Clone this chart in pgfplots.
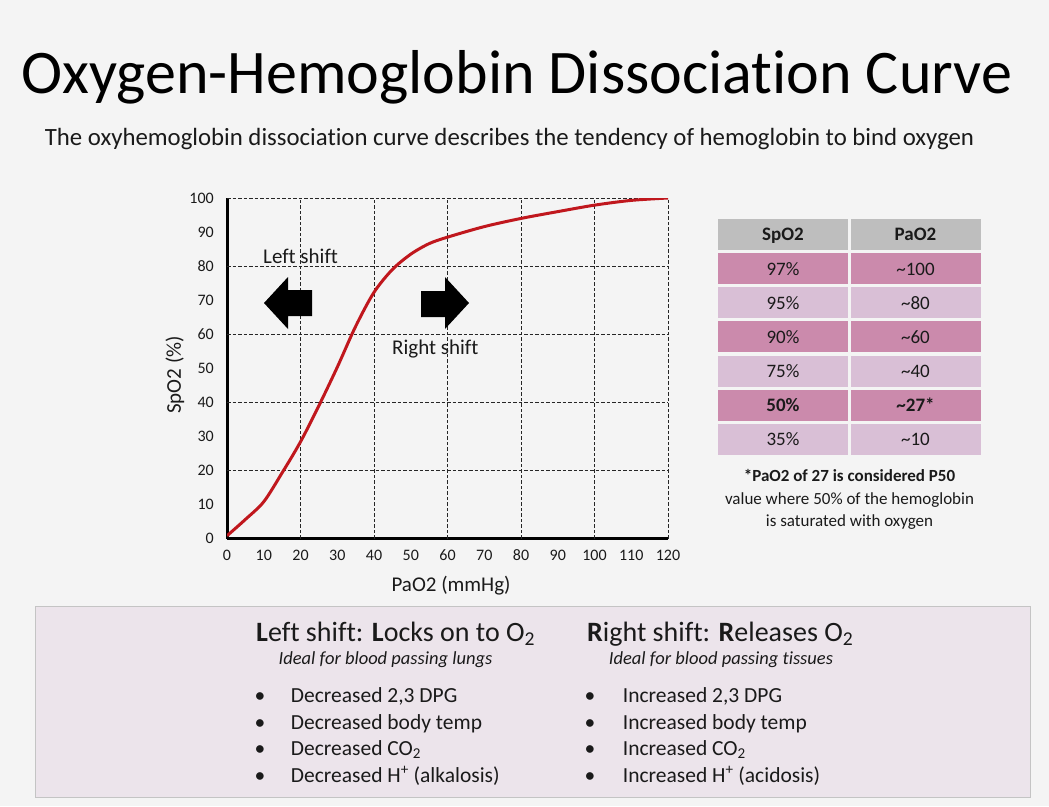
\documentclass[border=0pt]{standalone}
\usepackage{pgfplots}
\pgfplotsset{compat=1.18}
\usepackage{fontspec}
\setmainfont{Carlito}[Ligatures=NoCommon]

\definecolor{bg}{HTML}{F4F4F4}
\definecolor{curve}{HTML}{C0171D}
\definecolor{hdr}{HTML}{BEBEBE}
\definecolor{pinkA}{HTML}{CB8AAC}
\definecolor{pinkB}{HTML}{D9BFD6}
\definecolor{boxbg}{HTML}{ECE4EB}
\definecolor{boxln}{HTML}{C4C4C4}
\definecolor{ink}{HTML}{1A1A1A}

\newcommand\fs[1]{\fontsize{#1}{#1}\selectfont}

\begin{document}
\begin{tikzpicture}[x=1pt,y=1pt]
\path[use as bounding box] (0,0) rectangle (1049,-806);
\fill[bg] (0,0) rectangle (1049,-806);

% title and subtitle
\node[anchor=base, inner sep=0] at (517,-93.5) {\fs{62}Oxygen-Hemoglobin Dissociation Curve};
\node[anchor=base, inner sep=0, text=ink] at (509.5,-145) {\fs{24.8}The oxyhemoglobin dissociation curve describes the tendency of hemoglobin to bind oxygen};

\begin{axis}[
  at={(227pt,-538.5pt)}, anchor=south west,
  scale only axis, width=441pt, height=340.5pt,
  xmin=0, xmax=120, ymin=0, ymax=100,
  xtick={0,10,...,120}, ytick={0,10,...,100},
  extra x ticks={20,40,...,120}, extra x tick labels={,,,,,},
  extra y ticks={20,40,...,100}, extra y tick labels={,,,,},
  extra tick style={grid=major},
  grid style={black!85, line width=0.8pt, dash pattern=on 3.5pt off 2pt},
  major tick length=0pt,
  axis lines=left,
  axis line style={-, line width=3pt, black},
  tick label style={font=\fs{16}, text=ink, inner sep=0pt},
  /pgf/number format/assume math mode=true,
  yticklabel style={anchor=east, xshift=-13pt},
  xticklabel style={anchor=north, yshift=-11pt},
  xlabel={PaO2 (mmHg)}, ylabel={SpO2 (\%)},
  every axis x label/.style={at={(axis description cs:0.508,-0.156)}, anchor=base,
    font=\fs{21}, text=ink, inner sep=0pt},
  every axis y label/.style={at={(axis description cs:-0.118,0.48)}, anchor=center,
    rotate=90, font=\fs{21}, text=ink, inner sep=0pt},
]
\addplot[curve, line width=3pt, smooth, tension=0.5] coordinates {
  (0,0.8) (5,5.6) (10,10.8) (15,19.3) (20,28.4) (25,39) (30,50.3) (35,62.3)
  (40,72.3) (45,79) (50,83.5) (55,86.6) (60,88.5) (70,91.6) (80,94)
  (90,96) (100,97.9) (110,99.3) (120,100)
};
\end{axis}

% shift labels and arrows
\node[anchor=base west, inner sep=0, text=ink] at (263,-263) {\fs{21}Left shift};
\node[anchor=base west, inner sep=0, text=ink] at (392,-354) {\fs{21}Right shift};
\fill[black] (264,-303) -- (288,-277) -- (288,-290) -- (312,-290) -- (312,-316)
  -- (288,-316) -- (288,-329) -- cycle;
\fill[black] (469,-303) -- (445,-277) -- (445,-291) -- (421,-291) -- (421,-317)
  -- (445,-317) -- (445,-329) -- cycle;

% table
\fill[hdr] (718,-218.5) rectangle (848,-249.5);
\fill[hdr] (850.5,-218.5) rectangle (981,-249.5);
\node[anchor=base, inner sep=0, text=ink] at (783,-240) {\fs{19}\bfseries SpO2};
\node[anchor=base, inner sep=0, text=ink] at (915.5,-240) {\fs{19}\bfseries PaO2};
\foreach \t/\c/\a/\b in {253/pinkA/{97\%}/{\textasciitilde100},
                         287/pinkB/{95\%}/{\textasciitilde80},
                         321/pinkA/{90\%}/{\textasciitilde60},
                         355.5/pinkB/{75\%}/{\textasciitilde40},
                         389.5/pinkA/{\bfseries 50\%}/{\bfseries\textasciitilde27*},
                         423.5/pinkB/{35\%}/{\textasciitilde10}} {
  \fill[\c] (718,-\t) rectangle (848,-\t-31);
  \fill[\c] (850.5,-\t) rectangle (981,-\t-31);
  \node[anchor=base, inner sep=0, text=ink] at (783,-\t-22) {\fs{19}\a};
  \node[anchor=base, inner sep=0, text=ink] at (915.5,-\t-22) {\fs{19}\b};
}
\node[anchor=base, inner sep=0, text=ink] at (849.5,-481.5) {\fs{17}\bfseries *PaO2 of 27 is considered P50};
\node[anchor=base, inner sep=0, text=ink] at (849.5,-504) {\fs{17}value where 50\% of the hemoglobin};
\node[anchor=base, inner sep=0, text=ink] at (849.5,-526) {\fs{17}is saturated with oxygen};

% bottom box
\filldraw[fill=boxbg, draw=boxln, line width=1pt] (35,-606) rectangle (1030,-797);
\node[anchor=base west, inner sep=0, text=ink] at (256,-641)
  {\fs{28}\textbf{L}eft shift: \textbf{L}ocks on to O\textsubscript{2}};
\node[anchor=base west, inner sep=0, text=ink] at (587,-641)
  {\fs{28}\textbf{R}ight shift: \textbf{R}eleases O\textsubscript{2}};
\node[anchor=base, inner sep=0, text=ink] at (385.5,-664) {\fs{18.5}\itshape Ideal for blood passing lungs};
\node[anchor=base, inner sep=0, text=ink] at (721,-664) {\fs{18.5}\itshape Ideal for blood passing tissues};
\foreach \y/\l/\r in {702.7/{Decreased 2,3 DPG}/{Increased 2,3 DPG},
                      729/{Decreased body temp}/{Increased body temp},
                      755.5/{Decreased CO\textsubscript{2}}/{Increased CO\textsubscript{2}},
                      782/{Decreased H\textsuperscript{+} (alkalosis)}/{Increased H\textsuperscript{+} (acidosis)}} {
  \node[anchor=base, inner sep=0, text=ink] at (260,-\y) {\fs{21.5}\textbullet};
  \node[anchor=base west, inner sep=0, text=ink] at (290.7,-\y) {\fs{21.5}\l};
  \node[anchor=base, inner sep=0, text=ink] at (590,-\y) {\fs{21.5}\textbullet};
  \node[anchor=base west, inner sep=0, text=ink] at (622.7,-\y) {\fs{21.5}\r};
}
\end{tikzpicture}
\end{document}
